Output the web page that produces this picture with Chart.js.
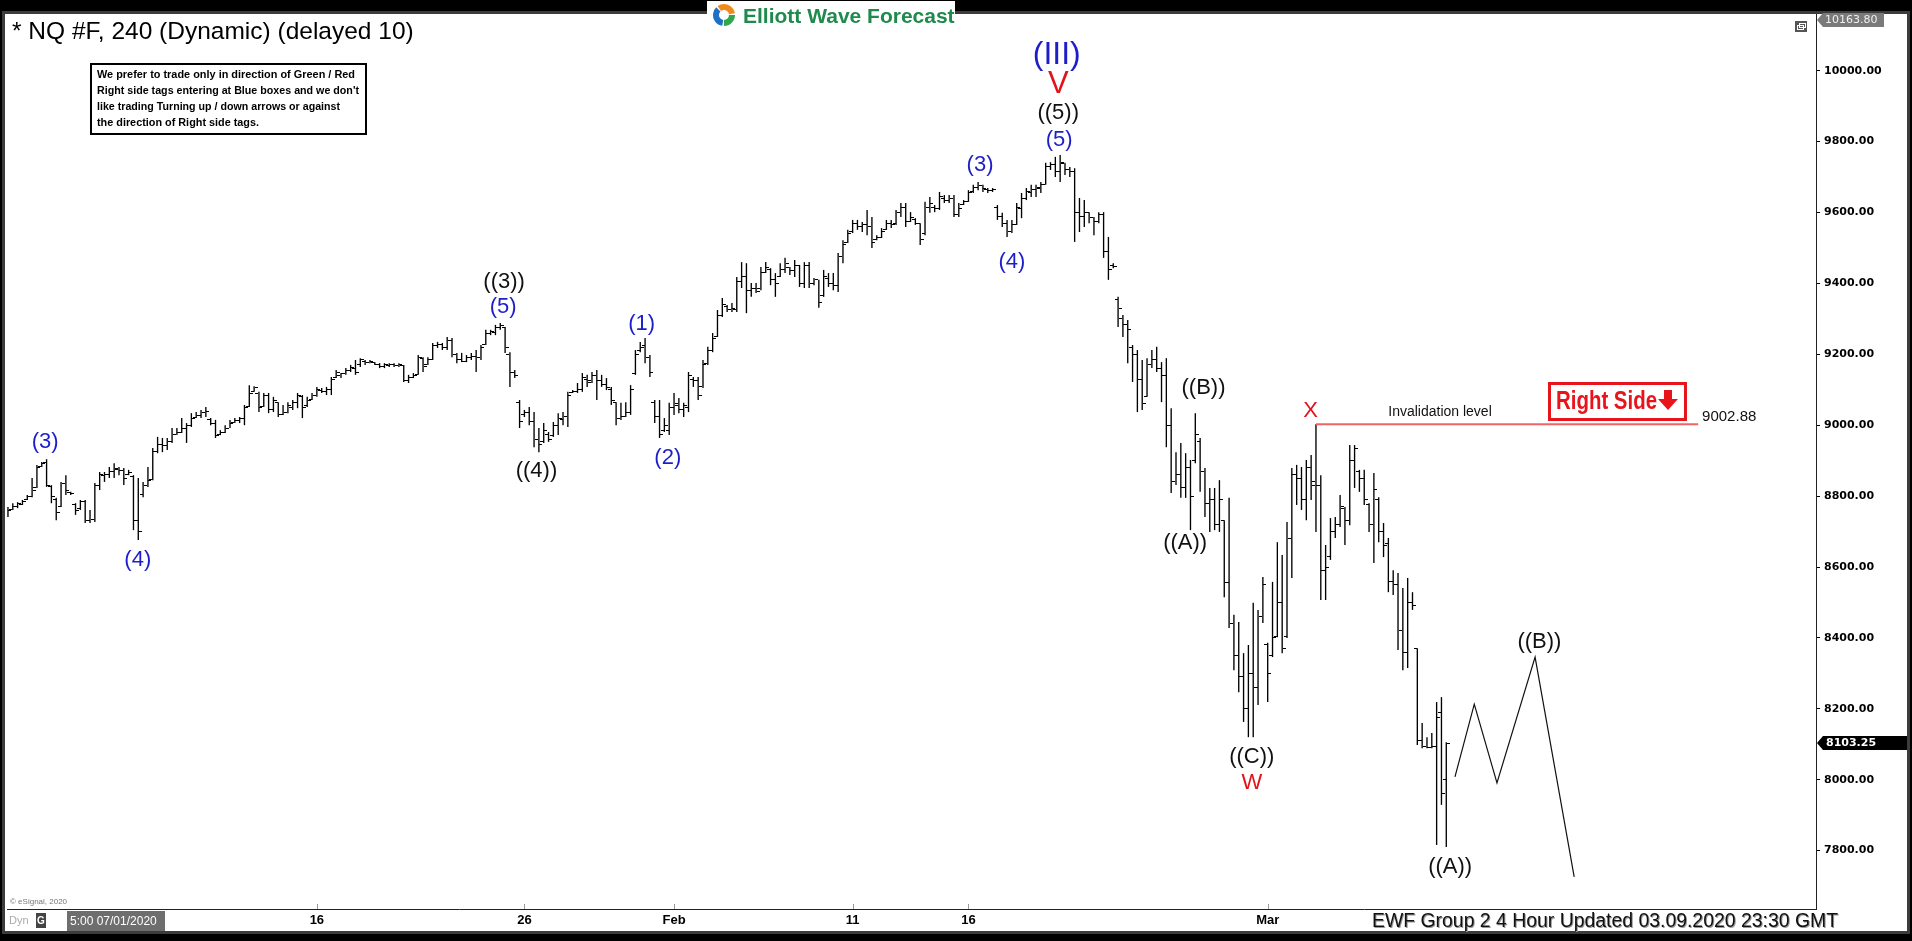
<!DOCTYPE html>
<html><head><meta charset="utf-8">
<script src="https://cdn.jsdelivr.net/npm/chart.js@4.4.0/dist/chart.umd.min.js"></script>
<style>html,body{margin:0;padding:0;background:#000;overflow:hidden}canvas{display:block}</style>
</head><body>
<canvas id="c" width="1912" height="941"></canvas>
<script>
// ---- OHLC data (4 hour bars, NQ futures) ----
const opens = [
8745,8762,8770,8777,8790,8800,8825,8884,8895,8828,
8790,8772,8835,8810,8775,8765,8785,8730,8735,8830,
8858,8860,8870,8876,8872,8862,8855,8730,8805,8830,
8848,8925,8945,8942,8955,8975,8980,8990,9000,9022,
9028,9035,9015,9005,8975,8980,8992,9008,9012,9018,
9052,9095,9090,9052,9085,9045,9065,9030,9035,9050,
9065,9080,9055,9072,9085,9098,9095,9100,9135,9140,
9145,9155,9160,9170,9180,9178,9176,9172,9165,9168,
9170,9168,9168,9125,9135,9142,9188,9172,9186,9225,
9228,9220,9240,9200,9185,9180,9190,9195,9190,9228,
9260,9262,9275,9275,9200,9150,9065,9030,9035,9010,
8960,8955,8975,8970,9000,9015,9025,9092,9095,9100,
9130,9125,9140,9125,9115,9100,9065,9020,9025,9035,
9145,9210,9225,9190,9065,9025,8985,8985,9050,9055,
9045,9050,9130,9125,9108,9175,9210,9250,9310,9335,
9325,9325,9405,9420,9380,9385,9385,9430,9440,9410,
9420,9440,9445,9435,9450,9400,9450,9400,9410,9365,
9415,9400,9395,9475,9515,9545,9570,9560,9565,9560,
9525,9530,9552,9570,9568,9600,9615,9575,9580,9568,
9540,9615,9615,9610,9640,9635,9640,9595,9622,9632,
9658,9670,9675,9665,9662,9615,9590,9570,9545,9566,
9610,9640,9655,9665,9668,9680,9730,9735,9715,9738,
9720,9715,9600,9590,9600,9585,9575,9595,9490,9450,
9355,9300,9285,9220,9200,9130,9082,9170,9185,9160,
9140,9000,8840,8860,8825,8880,8900,8955,8870,8780,
8790,8720,8730,8555,8440,8350,8290,8200,8300,8260,
8460,8380,8350,8405,8500,8405,8680,8860,8850,8790,
8880,8840,8830,8590,8630,8700,8720,8765,8730,8900,
8870,8850,8775,8720,8790,8700,8665,8560,8550,8420,
8360,8500,8370,8110,8095,8092,8095,8190,8000];
const highs = [
8769,8780,8783,8789,8803,8851,8888,8896,8904,8831,
8795,8840,8859,8812,8780,8789,8789,8761,8837,8868,
8868,8882,8893,8882,8879,8874,8859,8851,8840,8882,
8936,8967,8964,8964,8992,8992,9020,9006,9034,9037,
9043,9051,9020,9015,8986,9000,9015,9020,9023,9057,
9113,9110,9094,9091,9091,9080,9065,9057,9065,9071,
9091,9085,9080,9091,9108,9105,9108,9136,9156,9147,
9161,9170,9184,9189,9184,9184,9178,9175,9175,9175,
9175,9175,9170,9142,9147,9198,9192,9192,9232,9235,
9232,9249,9246,9204,9204,9198,9204,9212,9226,9269,
9269,9283,9288,9277,9206,9156,9071,9043,9051,9037,
8992,9006,8981,9009,9034,9037,9094,9099,9119,9147,
9142,9150,9156,9142,9133,9108,9065,9063,9065,9113,
9212,9235,9246,9198,9071,9071,9020,9063,9091,9077,
9063,9150,9136,9136,9184,9221,9260,9325,9359,9339,
9345,9418,9460,9457,9401,9401,9446,9460,9443,9429,
9457,9472,9446,9466,9452,9460,9460,9415,9410,9438,
9429,9429,9486,9522,9551,9579,9579,9573,9607,9587,
9536,9556,9579,9579,9607,9627,9627,9601,9584,9570,
9630,9644,9621,9658,9649,9649,9649,9627,9635,9663,
9678,9686,9678,9669,9669,9621,9599,9579,9579,9627,
9655,9669,9678,9678,9686,9740,9742,9757,9762,9740,
9728,9725,9641,9635,9601,9587,9601,9601,9531,9457,
9362,9311,9297,9226,9212,9184,9189,9212,9221,9178,
9189,9048,8924,8950,8921,8902,9034,8964,8879,8823,
8823,8845,8732,8795,8465,8445,8357,8380,8499,8479,
8572,8386,8558,8670,8634,8727,8879,8888,8882,8902,
8916,9002.88,8859,8662,8738,8741,8803,8769,8944,8944,
8874,8874,8780,8865,8797,8724,8682,8591,8583,8541,
8569,8529,8371,8160,8120,8132,8219,8233,8106];
const lows = [
8741,8761,8766,8775,8789,8797,8823,8882,8826,8780,
8732,8769,8803,8803,8747,8761,8724,8724,8727,8817,
8840,8851,8851,8859,8831,8859,8704,8676,8797,8826,
8845,8921,8924,8930,8950,8972,8978,8950,8995,9020,
9020,9023,9000,8964,8972,8978,8992,9006,9006,9000,
9051,9094,9037,9051,9034,9037,9023,9029,9034,9043,
9048,9020,9051,9071,9080,9091,9085,9085,9133,9133,
9142,9150,9142,9164,9170,9175,9170,9161,9161,9164,
9164,9164,9122,9119,9133,9142,9150,9170,9184,9218,
9212,9212,9192,9175,9178,9178,9184,9150,9184,9226,
9254,9254,9269,9204,9108,9133,8992,9023,9000,8938,
8924,8950,8953,8967,8972,9000,8995,9091,9091,9094,
9108,9119,9071,9108,9099,9057,9000,9015,9023,9029,
9142,9206,9175,9136,9006,8964,8981,8972,9029,9034,
9023,9037,9108,9071,9105,9170,9206,9249,9305,9319,
9319,9319,9387,9316,9362,9373,9381,9429,9395,9362,
9418,9429,9424,9418,9390,9387,9387,9395,9331,9362,
9390,9381,9376,9457,9514,9542,9551,9545,9536,9500,
9522,9528,9551,9556,9565,9587,9559,9573,9565,9508,
9536,9599,9601,9607,9627,9627,9587,9587,9621,9630,
9655,9663,9658,9655,9658,9579,9559,9531,9542,9565,
9584,9635,9644,9644,9655,9678,9720,9700,9686,9706,
9700,9517,9545,9559,9570,9536,9570,9472,9410,9443,
9277,9249,9175,9122,9037,9043,9080,9161,9150,9065,
8938,8809,8831,8795,8795,8704,8893,8812,8741,8699,
8704,8699,8515,8428,8309,8247,8163,8120,8120,8211,
8442,8219,8346,8402,8357,8400,8569,8775,8761,8732,
8789,8699,8507,8507,8620,8682,8713,8662,8718,8823,
8812,8775,8699,8611,8670,8628,8529,8521,8366,8309,
8315,8479,8098,8089,8089,8089,7816,7929,7810];
const closes = [
8760,8772,8778,8785,8800,8815,8880,8892,8830,8800,
8755,8835,8815,8806,8760,8785,8730,8735,8830,8860,
8862,8870,8878,8872,8850,8866,8730,8700,8830,8845,
8925,8945,8942,8955,8975,8980,8990,9000,9020,9028,
9035,9040,9005,8970,8980,8990,9005,9012,9018,9050,
9090,9105,9050,9085,9045,9070,9030,9035,9055,9065,
9085,9050,9070,9085,9100,9095,9102,9130,9150,9145,
9155,9162,9150,9185,9178,9180,9172,9165,9170,9172,
9168,9170,9125,9135,9140,9190,9165,9185,9225,9228,
9220,9240,9200,9185,9180,9190,9195,9190,9220,9260,
9265,9275,9282,9220,9150,9140,9010,9035,9010,8960,
8945,8985,8960,9000,9020,9025,9085,9095,9100,9135,
9120,9140,9125,9115,9105,9070,9020,9025,9035,9100,
9200,9220,9190,9150,9025,8975,9000,9050,9060,9045,
9055,9140,9125,9085,9170,9210,9245,9310,9340,9325,
9330,9405,9420,9380,9385,9378,9430,9445,9410,9400,
9440,9455,9435,9450,9400,9450,9400,9410,9345,9420,
9400,9395,9475,9510,9540,9570,9560,9565,9560,9515,
9530,9545,9570,9565,9600,9615,9575,9585,9570,9525,
9615,9625,9610,9645,9635,9640,9595,9610,9630,9655,
9670,9675,9668,9662,9665,9590,9570,9545,9565,9615,
9640,9660,9665,9670,9680,9730,9735,9715,9740,9720,
9715,9600,9590,9600,9585,9575,9595,9490,9440,9448,
9330,9285,9270,9200,9130,9060,9170,9185,9160,9140,
9000,8840,8860,8825,8880,8800,8975,8870,8780,8790,
8720,8790,8555,8440,8350,8290,8200,8300,8260,8460,
8550,8300,8400,8500,8370,8680,8860,8850,8790,8880,
8830,8830,8590,8600,8700,8720,8770,8730,8900,8935,
8850,8790,8720,8820,8700,8660,8560,8550,8420,8360,
8500,8490,8110,8095,8092,8095,8175,7960,8103.25];

// ---- axes ----
const yTickValues = [7800,8000,8200,8400,8600,8800,9000,9200,9400,9600,9800,10000];
const xTickIndex = [64,107,138,175,199,261];
const xTickLabels = ['16','26','Feb','11','16','Mar'];
const scaleTopValue = 10163.80;

// ---- wave labels (text, bar index, price, kind) ----
const waveText  = ['(3)','(4)','((3))','(5)','((4))','(1)','(2)','(3)','(4)','(III)','V','((5))','(5)','((B))','((A))','((C))','W','X','((A))','((B))'];
const waveIdx   = [7.7,26.9,102.8,102.6,109.5,131.3,136.7,201.4,208,217.3,217.6,217.6,217.8,247.7,243.9,257.7,257.7,269.9,298.8,317.3];
const wavePrice = [8953,8620,9404,9334,8871,9285,8907,9734,9461,10044,9960,9880,9806,9104,8667,8065,7990,9041,7754,8389];
const waveKind  = ['blue','blue','black','blue','black','blue','blue','blue','blue','bigBlue','bigRed','black','blue','black','black','black','red','red','black','black'];

// ---- invalidation & projected path ----
const invalidationLevel = 9002.88;
const invalidationIdx = [271, 350.2];
const projIdx = [299.8, 303.8, 308.5, 316.4, 324.5];
const projPrice = [8008, 8213, 7991, 8346, 7726];

const SANS = '"Liberation Sans", Arial, Helvetica, sans-serif';
const waveStyles = {
  blue:{color:'#1e1ec8', size:22}, black:{color:'#111111', size:22}, red:{color:'#e3121b', size:22},
  bigBlue:{color:'#1e1ec8', size:32}, bigRed:{color:'#e3121b', size:31}
};

const n = Math.min(opens.length, highs.length, lows.length, closes.length);
const idx = Array.from({length:n}, (_, i) => i);

function tickImg(side){
  const c = document.createElement('canvas'); c.width = 7; c.height = 1;
  const g = c.getContext('2d'); g.fillStyle = '#000';
  if (side === 'L') g.fillRect(0,0,3,1); else g.fillRect(4,0,3,1);
  return c;
}

const decor = {
  id:'decor',
  beforeDraw(chart){
    const c = chart.ctx;
    c.save();
    c.fillStyle = '#000'; c.fillRect(0,0,1912,941);
    c.fillStyle = '#3c3c3c'; c.fillRect(2,11,1908,923);
    c.fillStyle = '#fff'; c.fillRect(5,14,1902,917);
    c.restore();
  },
  beforeDatasetsDraw(chart){ chart.ctx.imageSmoothingEnabled = false; },
  afterDraw(chart){
    const c = chart.ctx, xs = chart.scales.x, ys = chart.scales.y;
    c.save();
    c.imageSmoothingEnabled = true;
    // x tick marks inside plot
    c.strokeStyle = '#999'; c.lineWidth = 1;
    xTickIndex.forEach(v => { const px = Math.round(xs.getPixelForValue(v)) + 0.5; c.beginPath(); c.moveTo(px, 904); c.lineTo(px, 909); c.stroke(); });

    // title
    c.fillStyle = '#000'; c.textBaseline = 'alphabetic'; c.textAlign = 'left';
    c.font = '24.5px ' + SANS;
    c.fillText('* NQ #F, 240 (Dynamic) (delayed 10)', 12, 39);

    // note box
    c.lineWidth = 2; c.strokeStyle = '#000';
    c.strokeRect(91, 64, 275, 70);
    c.font = 'bold 11px ' + SANS;
    const note = ['We prefer to trade only in direction of Green / Red','Right side tags entering at Blue boxes and we don\'t','like trading Turning up / down arrows or against','the direction of Right side tags.'];
    const nw = [258, 262, 243, 162];
    note.forEach((t, i) => c.fillText(t, 97, 78 + i * 16, nw[i]));

    // logo
    c.fillStyle = '#fff'; c.fillRect(707, 1, 248, 28);
    const cx = 724, cy = 15;
    c.lineWidth = 6;
    c.strokeStyle = '#1f6fc4'; c.beginPath(); c.arc(cx, cy, 8, Math.PI*0.55, Math.PI*1.25); c.stroke();
    c.strokeStyle = '#f08a1c'; c.beginPath(); c.arc(cx, cy, 8, Math.PI*1.3, Math.PI*1.95); c.stroke();
    c.strokeStyle = '#2ea84a'; c.beginPath(); c.arc(cx, cy, 8, Math.PI*0.0, Math.PI*0.5); c.stroke();
    c.fillStyle = '#1f8a4c'; c.font = 'bold 21px ' + SANS;
    c.fillText('Elliott Wave Forecast', 743, 23, 212);

    // top-right icon
    c.fillStyle = '#555'; c.fillRect(1795, 21, 12, 11);
    c.strokeStyle = '#fff'; c.lineWidth = 1;
    c.strokeRect(1797.5, 25.5, 6, 4); c.strokeRect(1799.5, 23.5, 6, 4);

    // wave labels
    c.textAlign = 'center'; c.textBaseline = 'middle';
    waveText.forEach((t, i) => {
      const st = waveStyles[waveKind[i]];
      c.fillStyle = st.color; c.font = st.size + 'px ' + SANS;
      c.fillText(t, xs.getPixelForValue(waveIdx[i]), ys.getPixelForValue(wavePrice[i]));
    });

    // invalidation texts
    c.fillStyle = '#111'; c.font = '14px ' + SANS;
    c.fillText('Invalidation level', xs.getPixelForValue(296.7), ys.getPixelForValue(invalidationLevel) - 12);
    c.textAlign = 'left'; c.font = '15px ' + SANS;
    c.fillText(invalidationLevel.toFixed(2), xs.getPixelForValue(351), ys.getPixelForValue(invalidationLevel) - 7);

    // Right Side box
    c.fillStyle = '#fff'; c.fillRect(1549, 383, 137, 37);
    c.strokeStyle = '#e8141c'; c.lineWidth = 3; c.strokeRect(1549.5, 383.5, 136, 36);
    c.fillStyle = '#e8141c'; c.font = 'bold 25px ' + SANS; c.textBaseline = 'alphabetic';
    c.fillText('Right Side', 1556, 409, 101);
    c.fillRect(1664, 390, 8, 10);
    c.beginPath(); c.moveTo(1658, 399); c.lineTo(1678, 399); c.lineTo(1668, 410); c.closePath(); c.fill();

    // price boxes on axis
    c.textBaseline = 'middle';
    const lp = ys.getPixelForValue(closes[n-1]);
    c.fillStyle = '#000';
    c.beginPath(); c.moveTo(1817, lp); c.lineTo(1823, lp-7); c.lineTo(1907, lp-7); c.lineTo(1907, lp+7); c.lineTo(1823, lp+7); c.closePath(); c.fill();
    c.fillStyle = '#fff'; c.font = 'bold 11px "DejaVu Sans", Verdana, sans-serif';
    c.fillText(closes[n-1].toFixed(2), 1826, lp + 0.5);
    c.fillStyle = '#7a7a7a';
    c.beginPath(); c.moveTo(1817, 20); c.lineTo(1823, 13); c.lineTo(1884, 13); c.lineTo(1884, 27); c.lineTo(1823, 27); c.closePath(); c.fill();
    c.fillStyle = '#f0f0f0'; c.font = '11px "DejaVu Sans", Verdana, sans-serif';
    c.fillText(scaleTopValue.toFixed(2), 1825, 20.5);

    // bottom band items
    c.fillStyle = '#aaa'; c.font = '11px ' + SANS; c.fillText('Dyn', 9, 921);
    c.fillStyle = '#444'; c.fillRect(36, 913, 10, 15);
    c.fillStyle = '#fff'; c.font = 'bold 10px ' + SANS; c.fillText('G', 37, 921);
    c.fillStyle = '#6e6e6e'; c.fillRect(67, 911, 98, 20);
    c.fillStyle = '#fff'; c.font = '12px ' + SANS; c.fillText('5:00 07/01/2020', 70, 921.5, 92);
    c.fillStyle = '#777'; c.font = '8px ' + SANS; c.fillText('\u00a9 eSignal, 2020', 10, 902);

    // footer
    c.font = '20px ' + SANS;
    c.fillStyle = '#9a9a9a'; c.fillText('EWF Group 2 4 Hour Updated 03.09.2020 23:30 GMT', 1373, 922, 466);
    c.fillStyle = '#111'; c.fillText('EWF Group 2 4 Hour Updated 03.09.2020 23:30 GMT', 1372, 921, 466);
    c.restore();
  }
};

new Chart(document.getElementById('c'), {
  type:'bar',
  data:{ datasets:[
    { type:'bar', label:'range', data: idx.map(i => ({x:i, y:[lows[i], highs[i]]})),
      backgroundColor:'#000', borderWidth:0, barThickness:1.35, inflateAmount:0, grouped:false, order:3 },
    { type:'scatter', label:'open', data: idx.map(i => ({x:i, y:opens[i]})),
      pointStyle: tickImg('L'), pointRadius:1, order:2 },
    { type:'scatter', label:'close', data: idx.map(i => ({x:i, y:closes[i]})),
      pointStyle: tickImg('R'), pointRadius:1, order:2 },
    { type:'line', label:'invalidation', data: invalidationIdx.map(v => ({x:v, y:invalidationLevel})),
      borderColor:'#ee6464', borderWidth:2, pointRadius:0, order:1 },
    { type:'line', label:'projection', data: projIdx.map((v, i) => ({x:v, y:projPrice[i]})),
      borderColor:'#111', borderWidth:1.2, pointRadius:0, tension:0, order:1 }
  ]},
  plugins:[decor],
  options:{
    responsive:false, animation:false, events:[],
    layout:{ padding:{left:7, top:14, right:7, bottom:10}, autoPadding:false },
    plugins:{ legend:{display:false}, tooltip:{enabled:false} },
    scales:{
      x:{ type:'linear', min:-0.2, max:374.6, offset:false,
        afterBuildTicks: s => { s.ticks = xTickIndex.map(v => ({value:v})); },
        afterFit: s => { s.height = 22; },
        grid:{ display:false, drawTicks:false, offset:false },
        border:{ display:true, color:'#222', width:1 },
        ticks:{ autoSkip:false, maxRotation:0, color:'#000', padding:4,
          font:{ family:'"Liberation Sans", Arial, sans-serif', size:13, weight:'bold' },
          callback: v => { const k = xTickIndex.indexOf(v); return k >= 0 ? xTickLabels[k] : ''; } }
      },
      y:{ type:'linear', position:'right', min:7635.3, max:10159.9,
        afterBuildTicks: s => { s.ticks = yTickValues.map(v => ({value:v})); },
        afterFit: s => { s.width = 89; },
        grid:{ drawOnChartArea:false, drawTicks:true, tickLength:4, color:'#000' },
        border:{ display:true, color:'#222', width:1 },
        ticks:{ color:'#000', padding:4,
          font:{ family:'"DejaVu Sans", Verdana, sans-serif', size:11, weight:'bold' },
          callback: v => Number(v).toFixed(2) }
      }
    }
  }
});
</script>
</body></html>
